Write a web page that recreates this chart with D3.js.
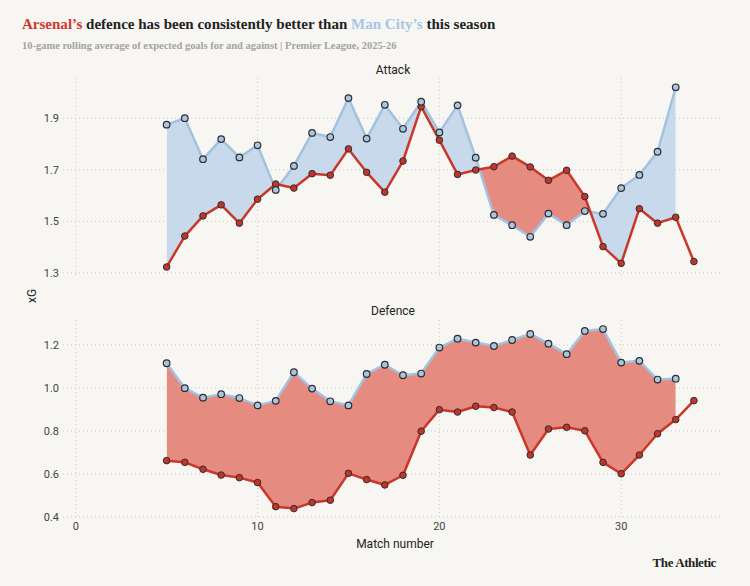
<!DOCTYPE html>
<html>
<head>
<meta charset="utf-8">
<script src="https://cdn.jsdelivr.net/npm/d3@7"></script>
<style>
  body { margin: 0; background: #f7f6f2; }
  svg { display: block; }
</style>
</head>
<body>
<div id="chart"></div>
<script>
// match numbers
const cityMatches = [5,6,7,8,9,10,11,12,13,14,15,16,17,18,19,20,21,22,23,24,25,26,27,28,29,30,31,32,33];
const arsenalMatches = [5,6,7,8,9,10,11,12,13,14,15,16,17,18,19,20,21,22,23,24,25,26,27,28,29,30,31,32,33,34];

// 10-game rolling xG for (attack)
const cityAttack = [1.875,1.9,1.741,1.819,1.748,1.795,1.622,1.715,1.843,1.827,1.978,1.821,1.952,1.859,1.964,
                    1.845,1.95,1.747,1.525,1.485,1.44,1.53,1.485,1.54,1.529,1.629,1.68,1.77,2.02];
const arsenalAttack = [1.323,1.443,1.521,1.564,1.493,1.586,1.645,1.629,1.685,1.679,1.781,1.69,1.613,1.734,1.945,
                       1.815,1.682,1.699,1.712,1.753,1.711,1.659,1.698,1.596,1.402,1.337,1.549,1.493,1.516,1.344];

// 10-game rolling xG against (defence)
const cityDefence = [1.115,0.999,0.955,0.971,0.953,0.919,0.94,1.073,0.997,0.938,0.919,1.065,1.108,1.059,1.067,
                     1.188,1.229,1.211,1.195,1.223,1.251,1.206,1.157,1.265,1.274,1.118,1.126,1.039,1.043];
const arsenalDefence = [0.662,0.654,0.622,0.595,0.583,0.56,0.448,0.439,0.467,0.478,0.603,0.574,0.549,0.594,0.799,
                        0.899,0.888,0.915,0.909,0.888,0.688,0.809,0.817,0.801,0.654,0.601,0.688,0.787,0.853,0.941];

const xTicks = [0,10,20,30];
const attackTicks = [1.3,1.5,1.7,1.9];
const defenceTicks = [0.4,0.6,0.8,1.0,1.2];

const W = 750, H = 586;
const RED = "#c9372b", RED_FILL = "#e58b7f", BLUE = "#a3c2e0", BLUE_FILL = "#c7d9ea";
const AXIS_FONT = "Roboto, 'Liberation Sans', sans-serif";
const TITLE_FONT = "'Liberation Serif', 'DejaVu Serif', serif";

const svg = d3.select("#chart").append("svg")
  .attr("width", W).attr("height", H);
svg.append("rect").attr("width", W).attr("height", H).attr("fill", "#f7f6f2");

// title -- fit to the width seen in the picture
const title = svg.append("text").attr("x", 22).attr("y", 29)
  .attr("font-family", TITLE_FONT).attr("font-weight", "bold").attr("font-size", 18).attr("fill", "#222");
title.append("tspan").attr("fill", "#d1382c").text("Arsenal\u2019s");
title.append("tspan").text(" defence has been consistently better than ");
title.append("tspan").attr("fill", "#a6c6e4").text("Man City\u2019s");
title.append("tspan").text(" this season");
fitWidth(title, 18, 474);

const sub = svg.append("text").attr("x", 22).attr("y", 49)
  .attr("font-family", TITLE_FONT).attr("font-weight", "bold").attr("font-size", 13).attr("fill", "#a3a3a3")
  .text("10-game rolling average of expected goals for and against | Premier League, 2025-26");
fitWidth(sub, 13, 375);

function fitWidth(sel, size, target) {
  var w = sel.node().getComputedTextLength();
  sel.attr("font-size", size * target / w);
}

const x = d3.scaleLinear().domain([-0.7, 35.6]).range([63, 723]);

const panels = [
  { name: "Attack", top: 78, bottom: 276, domain: [1.288, 2.056], ticks: attackTicks,
    city: cityAttack, arsenal: arsenalAttack, titleY: 74, arsenalBetterAbove: true },
  { name: "Defence", top: 320, bottom: 520, domain: [0.386, 1.316], ticks: defenceTicks,
    city: cityDefence, arsenal: arsenalDefence, titleY: 315, arsenalBetterAbove: false }
];

panels.forEach(function(p, pi) {
  var y = d3.scaleLinear().domain(p.domain).range([p.bottom, p.top]);
  var g = svg.append("g");

  // grid
  g.selectAll(".hgrid").data(p.ticks).join("line")
    .attr("x1", x.range()[0]).attr("x2", x.range()[1])
    .attr("y1", d => y(d)).attr("y2", d => y(d))
    .attr("stroke", "#c9c9c6").attr("stroke-width", 1).attr("stroke-dasharray", "1,3");
  g.selectAll(".vgrid").data(xTicks).join("line")
    .attr("x1", d => x(d)).attr("x2", d => x(d))
    .attr("y1", p.top).attr("y2", p.bottom)
    .attr("stroke", "#c9c9c6").attr("stroke-width", 1).attr("stroke-dasharray", "1,3");

  // y tick labels
  g.selectAll(".ylab").data(p.ticks).join("text")
    .attr("x", 59).attr("y", d => y(d)).attr("dy", "0.35em")
    .attr("text-anchor", "end").attr("font-family", AXIS_FONT).attr("font-size", 11).attr("fill", "#444")
    .text(d => d3.format(".1f")(d));

  // panel title
  g.append("text").attr("x", 393).attr("y", p.titleY).attr("text-anchor", "middle")
    .attr("font-family", AXIS_FONT).attr("font-size", 12).attr("fill", "#222").text(p.name);

  var cityPts = cityMatches.map((m, i) => ({ m: m, c: p.city[i], a: p.arsenal[arsenalMatches.indexOf(m)] }));

  // clip regions above / below the City line
  var aboveId = "above" + pi, belowId = "below" + pi;
  var defs = svg.append("defs");
  defs.append("clipPath").attr("id", aboveId).append("path")
    .attr("d", d3.area().x(d => x(d.m)).y0(p.top - 5).y1(d => y(d.c))(cityPts));
  defs.append("clipPath").attr("id", belowId).append("path")
    .attr("d", d3.area().x(d => x(d.m)).y0(p.bottom + 5).y1(d => y(d.c))(cityPts));

  var between = d3.area().x(d => x(d.m)).y0(d => y(d.c)).y1(d => y(d.a));
  g.append("path").attr("d", between(cityPts)).attr("clip-path", "url(#" + aboveId + ")")
    .attr("fill", p.arsenalBetterAbove ? RED_FILL : BLUE_FILL);
  g.append("path").attr("d", between(cityPts)).attr("clip-path", "url(#" + belowId + ")")
    .attr("fill", p.arsenalBetterAbove ? BLUE_FILL : RED_FILL);

  // lines
  var line = d3.line().x(d => x(d[0])).y(d => y(d[1]));
  var cityLine = cityMatches.map((m, i) => [m, p.city[i]]);
  var arsLine = arsenalMatches.map((m, i) => [m, p.arsenal[i]]);
  g.append("path").attr("d", line(cityLine)).attr("fill", "none")
    .attr("stroke", BLUE).attr("stroke-width", 2.5).attr("stroke-linejoin", "round");
  g.append("path").attr("d", line(arsLine)).attr("fill", "none")
    .attr("stroke", RED).attr("stroke-width", 2.5).attr("stroke-linejoin", "round");

  // dots
  g.selectAll(".adot").data(arsLine).join("circle")
    .attr("cx", d => x(d[0])).attr("cy", d => y(d[1])).attr("r", 3.3)
    .attr("fill", "#c0352a").attr("stroke", "#2e2e2e").attr("stroke-width", 1);
  g.selectAll(".cdot").data(cityLine).join("circle")
    .attr("cx", d => x(d[0])).attr("cy", d => y(d[1])).attr("r", 3.3)
    .attr("fill", "#a9c5e1").attr("stroke", "#2e2e2e").attr("stroke-width", 1.2);
});

// x tick labels (bottom panel only)
svg.selectAll(".xlab").data(xTicks).join("text")
  .attr("x", d => x(d)).attr("y", 530).attr("text-anchor", "middle")
  .attr("font-family", AXIS_FONT).attr("font-size", 11).attr("fill", "#444").text(d => d);

svg.append("text").attr("x", 395).attr("y", 548).attr("text-anchor", "middle")
  .attr("font-family", AXIS_FONT).attr("font-size", 12).attr("fill", "#222").text("Match number");

svg.append("text").attr("transform", "translate(36,296) rotate(-90)").attr("text-anchor", "middle")
  .attr("font-family", AXIS_FONT).attr("font-size", 12).attr("fill", "#222").text("xG");

svg.append("text").attr("x", 716).attr("y", 567).attr("text-anchor", "end")
  .attr("font-family", TITLE_FONT).attr("font-weight", "bold").attr("font-size", 13)
  .attr("letter-spacing", -0.4).attr("fill", "#222").text("The Athletic");
</script>
</body>
</html>
